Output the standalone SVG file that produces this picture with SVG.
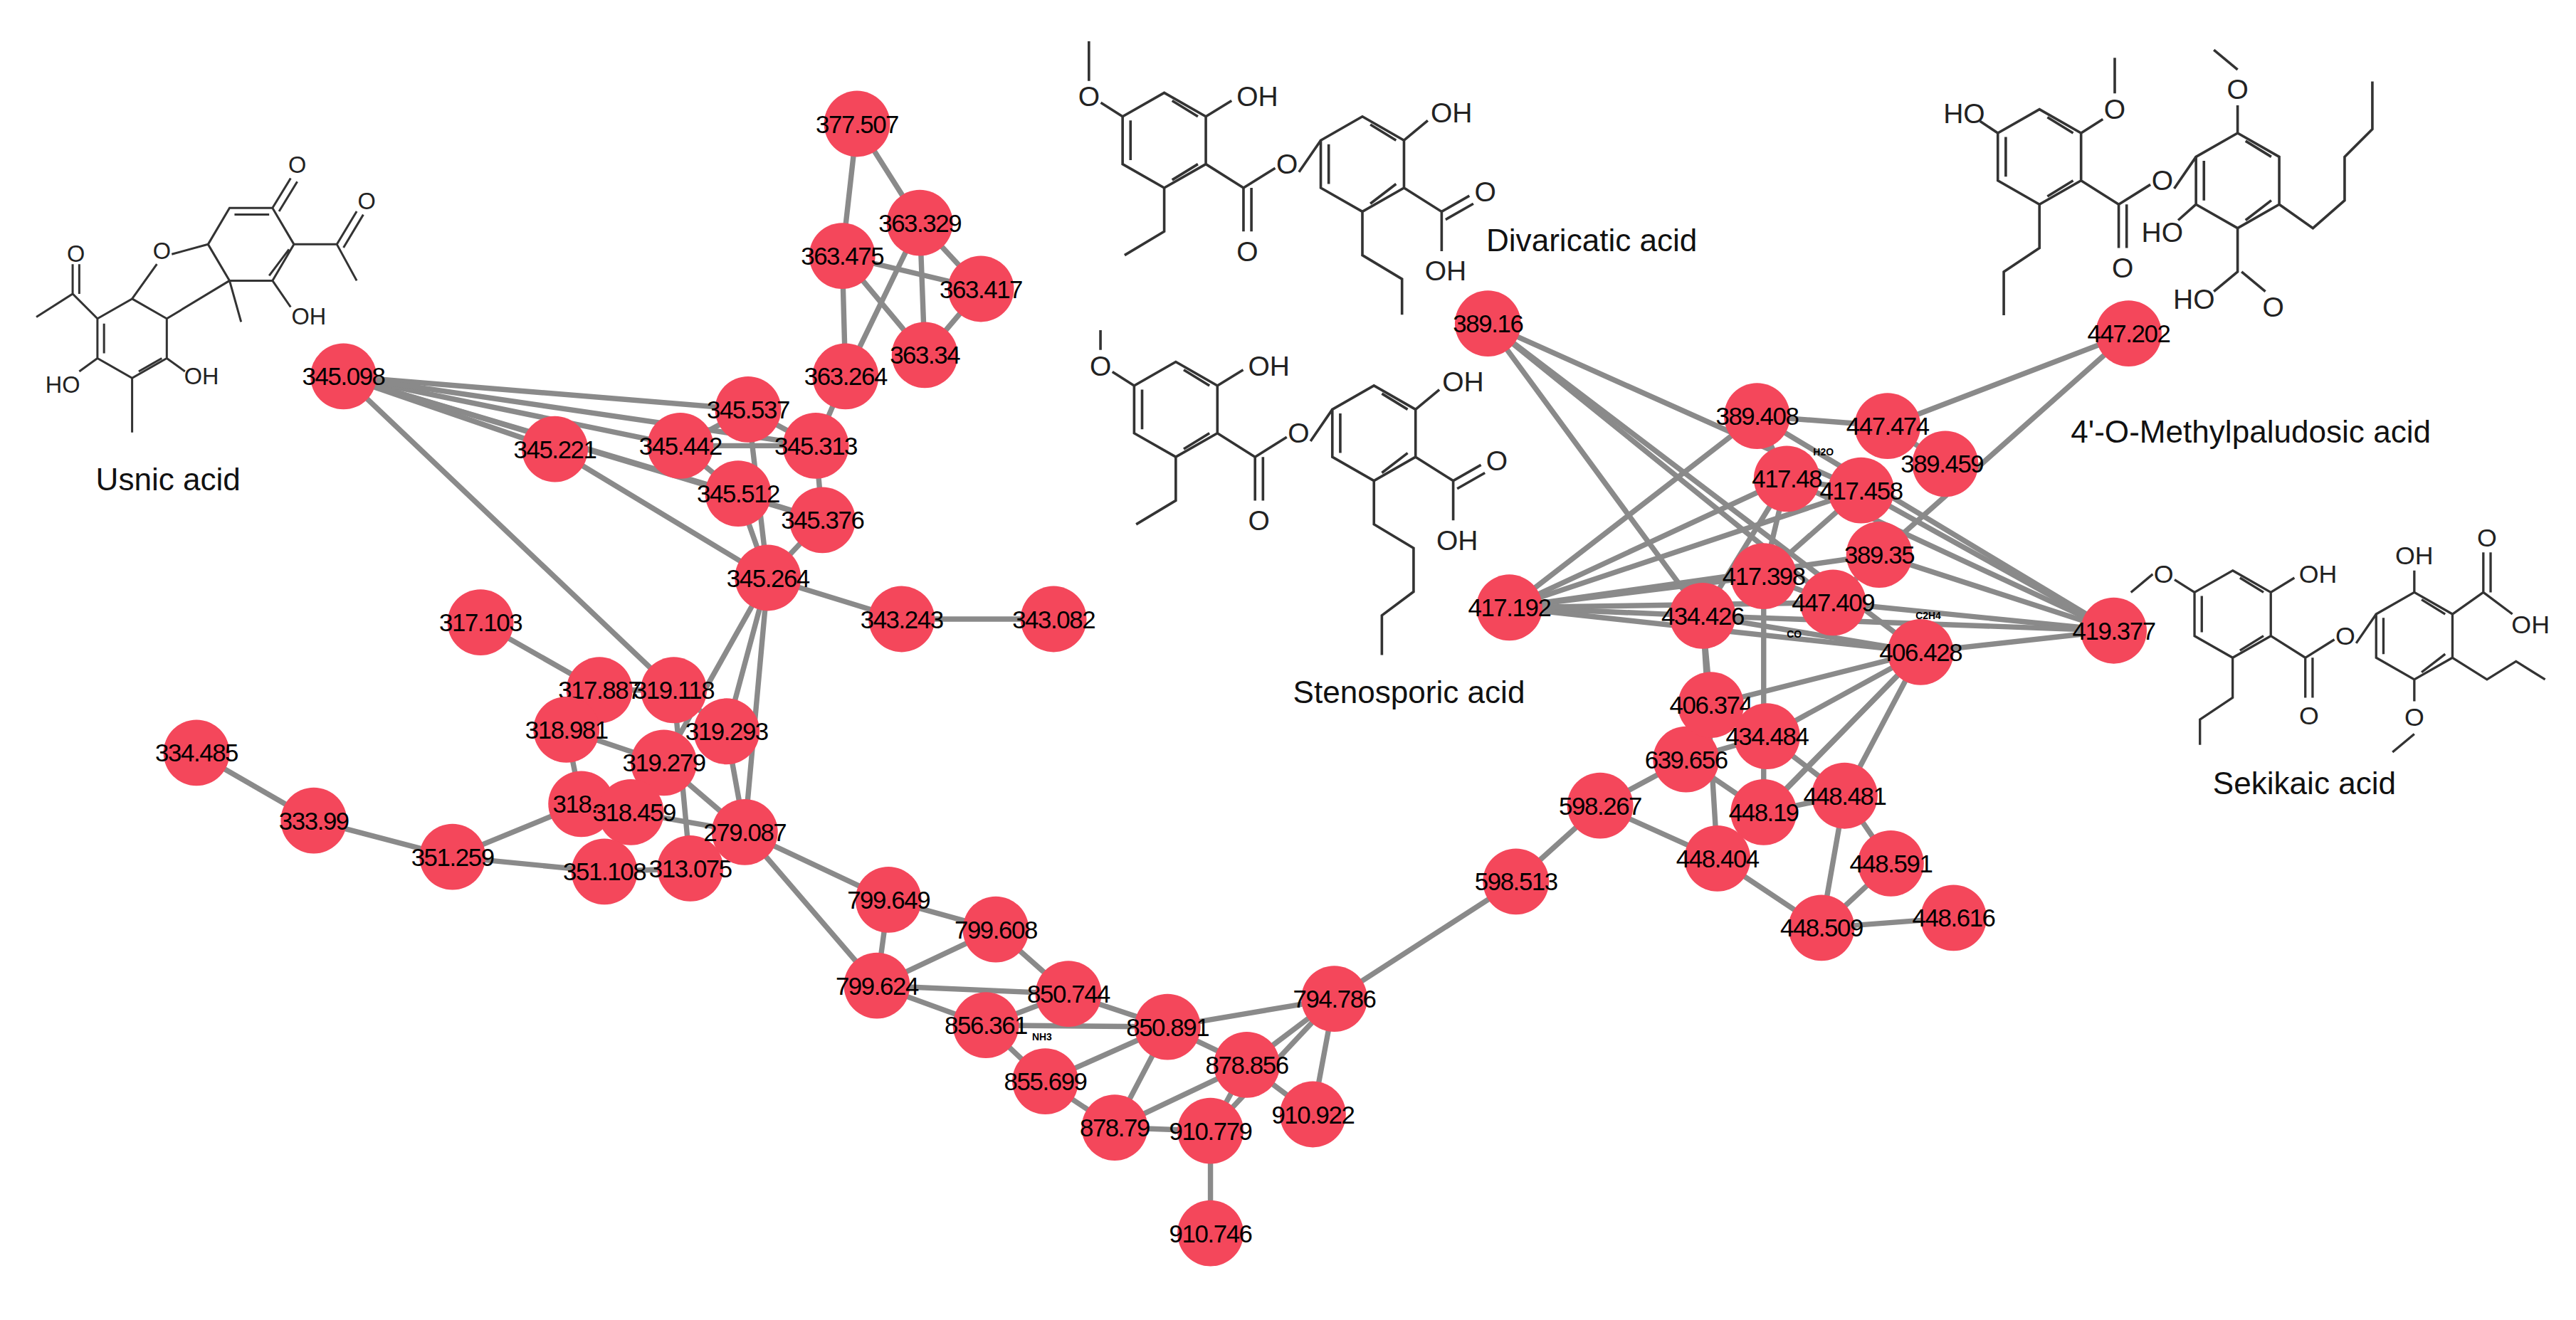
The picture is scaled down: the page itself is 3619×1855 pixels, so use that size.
<svg xmlns="http://www.w3.org/2000/svg" width="3619" height="1855" viewBox="0 0 3619 1855">
<style>
.e{stroke:#8a8a8a;stroke-width:3.2;stroke-linecap:round}
.n circle{fill:#f4475b}
.n text{font-family:"Liberation Sans",Arial,sans-serif;font-size:15px;fill:#000;text-anchor:middle;dominant-baseline:central;letter-spacing:-0.6px}
.m{fill:none;stroke:#333;stroke-width:1.3}
.mt{font-family:"Liberation Sans",Arial,sans-serif;font-size:14px;fill:#222;text-anchor:middle;dominant-baseline:central}
.lab{font-family:"Liberation Sans",Arial,sans-serif;font-size:19px;fill:#111}
.tiny{font-family:"Liberation Sans",Arial,sans-serif;font-size:6px;fill:#000;font-weight:bold}
</style>
<rect width="3619" height="1855" fill="#fff"/>
<g transform="scale(2.32)">
<g id="usnic">
<path class="m" d="M80,181 L101,193 L101,217 L80,229 L59,217 L59,193 Z M63,196 L63,214 M84,225 L98,217 M80,181 L95,160 M104,154 L126,148 L139,170 L101,193 M126,148 L139,126 L165,126 L178,148 L165,170 L139,170 M142,130 L163,130 M175,151 L163,167 M165,126 L176,108 M169,128 L180,110 M178,148 L204,148 L216,128 M208,150 L220,130 M204,148 L216,170 M165,170 L176,186 M139,170 L146,195 M80,229 L80,262 M59,217 L48,225 M101,217 L112,225 M59,193 L44,178 L22,192 M44,178 L44,160 M48,178 L48,160"/>
<text class="mt" x="98" y="152">O</text><text class="mt" x="180" y="100">O</text><text class="mt" x="222" y="122">O</text><text class="mt" x="46" y="154">O</text>
<text class="mt" x="187" y="192">OH</text><text class="mt" x="38" y="233">HO</text><text class="mt" x="122" y="228">OH</text>
<text class="lab" x="58" y="297">Usnic acid</text>
</g>
<g id="divaricatic" transform="translate(705,85) scale(1.2)">
<path class="m" d="M0,-24 L21,-12 L21,12 L0,24 L-21,12 L-21,-12 Z M4,-20 L17,-12 M17,12 L4,20 M-17,10 L-17,-10 M21,-12 L34,-20 M-21,-12 L-32,-19 M-38,-30 L-38,-50 M21,12 L40,24 L40,46 M44,24 L44,46 M40,24 L56,14 M68,16 L79,0 M79,0 L100,-12 L121,0 L121,24 L100,36 L79,24 Z M83,2 L83,22 M104,-8 L117,0 M117,22 L104,32 M121,0 L133,-10 M121,24 L140,36 L154,28 M142,40 L156,32 M140,36 L140,56 M0,24 L0,46 L-20,58 M100,36 L100,58 L120,70 L120,88"/>
<text class="mt" x="-38" y="-22">O</text><text class="mt" x="47" y="-22">OH</text><text class="mt" x="42" y="56">O</text><text class="mt" x="62" y="12">O</text><text class="mt" x="145" y="-14">OH</text><text class="mt" x="162" y="26">O</text><text class="mt" x="142" y="66">OH</text>
</g>
<text class="lab" x="900" y="152">Divaricatic acid</text>
<g id="stenosporic" transform="translate(712,248) scale(1.2)">
<path class="m" d="M0,-24 L21,-12 L21,12 L0,24 L-21,12 L-21,-12 Z M4,-20 L17,-12 M17,12 L4,20 M-17,10 L-17,-10 M21,-12 L34,-20 M-21,-12 L-32,-19 M-38,-30 L-38,-40 M21,12 L40,24 L40,46 M44,24 L44,46 M40,24 L56,14 M68,16 L79,0 M79,0 L100,-12 L121,0 L121,24 L100,36 L79,24 Z M83,2 L83,22 M104,-8 L117,0 M117,22 L104,32 M121,0 L133,-10 M121,24 L140,36 L154,28 M142,40 L156,32 M140,36 L140,56 M0,24 L0,46 L-20,58 M100,36 L100,58 L120,70 L120,92 L104,104 L104,124"/>
<text class="mt" x="-38" y="-22">O</text><text class="mt" x="47" y="-22">OH</text><text class="mt" x="42" y="56">O</text><text class="mt" x="62" y="12">O</text><text class="mt" x="145" y="-14">OH</text><text class="mt" x="162" y="26">O</text><text class="mt" x="142" y="66">OH</text>
</g>
<text class="lab" x="783" y="426">Stenosporic acid</text>
<g id="paludosic" transform="translate(1235,95) scale(1.2)">
<path class="m" d="M0,-24 L21,-12 L21,12 L0,24 L-21,12 L-21,-12 Z M4,-20 L17,-12 M17,12 L4,20 M-17,10 L-17,-10 M21,-12 L32,-19 M38,-32 L38,-50 M-21,-12 L-30,-18 M21,12 L40,24 L40,46 M44,24 L44,46 M40,24 L56,14 M68,16 L79,0 M79,0 L100,-12 L121,0 L121,24 L100,36 L79,24 Z M83,2 L83,22 M104,-8 L117,0 M117,22 L104,32 M100,-12 L100,-26 M100,-44 L88,-54 M79,24 L70,32 M100,36 L100,58 L88,68 M102,58 L114,68 M121,24 L138,36 L154,22 L154,0 L168,-14 L168,-38 M0,24 L0,46 L-18,58 L-18,80"/>
<text class="mt" x="-38" y="-22">HO</text><text class="mt" x="38" y="-24">O</text><text class="mt" x="42" y="56">O</text><text class="mt" x="62" y="12">O</text><text class="mt" x="100" y="-34">O</text><text class="mt" x="62" y="38">HO</text><text class="mt" x="78" y="72">HO</text><text class="mt" x="118" y="76">O</text>
</g>
<text class="lab" x="1254" y="268">4'-O-Methylpaludosic acid</text>
<g id="sekikaic" transform="translate(1352,372) scale(1.1)">
<path class="m" d="M0,-24 L21,-12 L21,12 L0,24 L-21,12 L-21,-12 Z M4,-20 L17,-12 M17,12 L4,20 M-17,10 L-17,-10 M21,-12 L34,-20 M-21,-12 L-32,-19 M-44,-22 L-56,-12 M21,12 L40,24 L40,46 M44,24 L44,46 M40,24 L56,14 M68,16 L79,0 M79,0 L100,-12 L121,0 L121,24 L100,36 L79,24 Z M83,2 L83,22 M104,-8 L117,0 M117,22 L104,32 M100,-12 L100,-24 M121,0 L138,-12 L138,-34 M142,-12 L142,-34 M138,-12 L154,0 M100,36 L100,48 M100,66 L88,76 M121,24 L140,36 L156,26 L172,36 M0,24 L0,46 L-18,58 L-18,72"/>
<text class="mt" x="-38" y="-22">O</text><text class="mt" x="47" y="-22">OH</text><text class="mt" x="42" y="56">O</text><text class="mt" x="62" y="12">O</text><text class="mt" x="100" y="-32">OH</text><text class="mt" x="140" y="-42">O</text><text class="mt" x="164" y="6">OH</text><text class="mt" x="100" y="57">O</text>
</g>
<text class="lab" x="1340" y="481">Sekikaic acid</text>

<g id="edges">
<g class="e">
<line x1="519" y1="75" x2="510" y2="155"/><line x1="519" y1="75" x2="557" y2="135"/>
<line x1="510" y1="155" x2="594" y2="175"/><line x1="510" y1="155" x2="560" y2="215"/><line x1="510" y1="155" x2="512" y2="228"/>
<line x1="557" y1="135" x2="594" y2="175"/><line x1="557" y1="135" x2="512" y2="228"/><line x1="557" y1="135" x2="560" y2="215"/>
<line x1="594" y1="175" x2="560" y2="215"/><line x1="512" y1="228" x2="494" y2="270"/>
<line x1="208" y1="228" x2="453" y2="248"/><line x1="208" y1="228" x2="412" y2="270"/><line x1="208" y1="228" x2="494" y2="270"/>
<line x1="208" y1="228" x2="336" y2="272"/><line x1="208" y1="228" x2="447" y2="299"/><line x1="208" y1="228" x2="498" y2="315"/>
<line x1="208" y1="228" x2="408" y2="418"/><line x1="336" y1="272" x2="465" y2="350"/>
<line x1="453" y1="248" x2="412" y2="270"/><line x1="453" y1="248" x2="494" y2="270"/><line x1="412" y1="270" x2="494" y2="270"/>
<line x1="412" y1="270" x2="447" y2="299"/><line x1="447" y1="299" x2="498" y2="315"/><line x1="447" y1="299" x2="465" y2="350"/>
<line x1="498" y1="315" x2="465" y2="350"/><line x1="494" y1="270" x2="498" y2="315"/><line x1="453" y1="248" x2="465" y2="350"/>
<line x1="465" y1="350" x2="546" y2="375"/><line x1="546" y1="375" x2="638" y2="375"/>
<line x1="465" y1="350" x2="440" y2="443"/><line x1="465" y1="350" x2="402" y2="462"/><line x1="465" y1="350" x2="451" y2="504"/>
<line x1="291" y1="377" x2="363" y2="418"/><line x1="363" y1="418" x2="343" y2="442"/><line x1="363" y1="418" x2="408" y2="418"/>
<line x1="408" y1="418" x2="440" y2="443"/><line x1="343" y1="442" x2="402" y2="462"/><line x1="343" y1="442" x2="352" y2="487"/>
<line x1="402" y1="462" x2="382" y2="492"/><line x1="440" y1="443" x2="451" y2="504"/><line x1="402" y1="462" x2="451" y2="504"/>
<line x1="352" y1="487" x2="382" y2="492"/><line x1="352" y1="487" x2="274" y2="519"/><line x1="274" y1="519" x2="366" y2="528"/>
<line x1="274" y1="519" x2="190" y2="497"/><line x1="190" y1="497" x2="119" y2="456"/><line x1="366" y1="528" x2="418" y2="526"/>
<line x1="418" y1="526" x2="451" y2="504"/><line x1="382" y1="492" x2="451" y2="504"/><line x1="408" y1="418" x2="418" y2="526"/>
<line x1="451" y1="504" x2="538" y2="545"/><line x1="451" y1="504" x2="531" y2="597"/>
<line x1="538" y1="545" x2="603" y2="563"/><line x1="538" y1="545" x2="531" y2="597"/><line x1="603" y1="563" x2="531" y2="597"/>
<line x1="603" y1="563" x2="647" y2="602"/><line x1="531" y1="597" x2="647" y2="602"/><line x1="531" y1="597" x2="597" y2="621"/>
<line x1="597" y1="621" x2="647" y2="602"/><line x1="597" y1="621" x2="707" y2="622"/><line x1="647" y1="602" x2="707" y2="622"/>
<line x1="597" y1="621" x2="633" y2="655"/><line x1="633" y1="655" x2="707" y2="622"/><line x1="633" y1="655" x2="675" y2="683"/>
<line x1="707" y1="622" x2="675" y2="683"/><line x1="707" y1="622" x2="808" y2="605"/><line x1="707" y1="622" x2="755" y2="645"/>
<line x1="755" y1="645" x2="808" y2="605"/><line x1="755" y1="645" x2="733" y2="685"/><line x1="755" y1="645" x2="795" y2="675"/>
<line x1="733" y1="685" x2="808" y2="605"/><line x1="795" y1="675" x2="808" y2="605"/><line x1="675" y1="683" x2="733" y2="685"/>
<line x1="733" y1="685" x2="733" y2="747"/><line x1="675" y1="683" x2="755" y2="645"/>
<line x1="808" y1="605" x2="918" y2="534"/><line x1="918" y1="534" x2="969" y2="488"/>
<line x1="969" y1="488" x2="1021" y2="460"/><line x1="969" y1="488" x2="1040" y2="520"/>
<line x1="1021" y1="460" x2="1036" y2="427"/><line x1="1021" y1="460" x2="1068" y2="492"/><line x1="1021" y1="460" x2="1070" y2="446"/>
<line x1="1036" y1="427" x2="1070" y2="446"/><line x1="1070" y1="446" x2="1117" y2="482"/><line x1="1070" y1="446" x2="1163" y2="395"/>
<line x1="1068" y1="492" x2="1117" y2="482"/><line x1="1068" y1="492" x2="1040" y2="520"/><line x1="1040" y1="520" x2="1103" y2="562"/>
<line x1="1117" y1="482" x2="1145" y2="523"/><line x1="1117" y1="482" x2="1103" y2="562"/><line x1="1145" y1="523" x2="1103" y2="562"/>
<line x1="1103" y1="562" x2="1183" y2="556"/><line x1="1117" y1="482" x2="1163" y2="395"/><line x1="1068" y1="492" x2="1163" y2="395"/>
<line x1="1036" y1="427" x2="1163" y2="395"/><line x1="1036" y1="427" x2="1031" y2="373"/><line x1="1040" y1="520" x2="1031" y2="373"/>
<line x1="1068" y1="492" x2="1068" y2="349"/><line x1="1040" y1="520" x2="1163" y2="395"/>
<line x1="901" y1="196" x2="1031" y2="373"/><line x1="901" y1="196" x2="1110" y2="365"/><line x1="901" y1="196" x2="1163" y2="395"/><line x1="901" y1="196" x2="1127" y2="297"/>
<line x1="914" y1="368" x2="1064" y2="252"/><line x1="914" y1="368" x2="1082" y2="290"/><line x1="914" y1="368" x2="1127" y2="297"/>
<line x1="914" y1="368" x2="1138" y2="336"/><line x1="914" y1="368" x2="1068" y2="349"/><line x1="914" y1="368" x2="1031" y2="373"/>
<line x1="914" y1="368" x2="1110" y2="365"/><line x1="914" y1="368" x2="1163" y2="395"/>
<line x1="1289" y1="202" x2="1143" y2="258"/><line x1="1289" y1="202" x2="1138" y2="336"/>
<line x1="1064" y1="252" x2="1143" y2="258"/><line x1="1064" y1="252" x2="1082" y2="290"/><line x1="1064" y1="252" x2="1280" y2="382"/>
<line x1="1082" y1="290" x2="1280" y2="382"/><line x1="1127" y1="297" x2="1280" y2="382"/><line x1="1138" y1="336" x2="1280" y2="382"/>
<line x1="1110" y1="365" x2="1280" y2="382"/><line x1="1163" y1="395" x2="1280" y2="382"/><line x1="1031" y1="373" x2="1163" y2="395"/>
<line x1="1031" y1="373" x2="1280" y2="382"/><line x1="1082" y1="290" x2="1031" y2="373"/><line x1="1127" y1="297" x2="1068" y2="349"/>
<line x1="1143" y1="258" x2="1178" y2="281"/><line x1="1082" y1="290" x2="1127" y2="297"/><line x1="1138" y1="336" x2="1110" y2="365"/>
<line x1="1068" y1="349" x2="1110" y2="365"/><line x1="1082" y1="290" x2="1068" y2="349"/>
</g>
<text class="tiny" x="1098" y="276">H2O</text>
<text class="tiny" x="1082" y="386">CO</text>
<text class="tiny" x="1160" y="375">C2H4</text>
<text class="tiny" x="625" y="630">NH3</text>
</g>

<g id="nodes">
<g class="n" id="n377_507"><circle cx="519" cy="75" r="20"/><text x="519" y="75">377.507</text></g>
<g class="n" id="n363_475"><circle cx="510" cy="155" r="20"/><text x="510" y="155">363.475</text></g>
<g class="n" id="n363_329"><circle cx="557" cy="135" r="20"/><text x="557" y="135">363.329</text></g>
<g class="n" id="n363_417"><circle cx="594" cy="175" r="20"/><text x="594" y="175">363.417</text></g>
<g class="n" id="n363_264"><circle cx="512" cy="228" r="20"/><text x="512" y="228">363.264</text></g>
<g class="n" id="n363_34"><circle cx="560" cy="215" r="20"/><text x="560" y="215">363.34</text></g>
<g class="n" id="n345_098"><circle cx="208" cy="228" r="20"/><text x="208" y="228">345.098</text></g>
<g class="n" id="n345_221"><circle cx="336" cy="272" r="20"/><text x="336" y="272">345.221</text></g>
<g class="n" id="n345_442"><circle cx="412" cy="270" r="20"/><text x="412" y="270">345.442</text></g>
<g class="n" id="n345_537"><circle cx="453" cy="248" r="20"/><text x="453" y="248">345.537</text></g>
<g class="n" id="n345_313"><circle cx="494" cy="270" r="20"/><text x="494" y="270">345.313</text></g>
<g class="n" id="n345_512"><circle cx="447" cy="299" r="20"/><text x="447" y="299">345.512</text></g>
<g class="n" id="n345_376"><circle cx="498" cy="315" r="20"/><text x="498" y="315">345.376</text></g>
<g class="n" id="n345_264"><circle cx="465" cy="350" r="20"/><text x="465" y="350">345.264</text></g>
<g class="n" id="n343_243"><circle cx="546" cy="375" r="20"/><text x="546" y="375">343.243</text></g>
<g class="n" id="n343_082"><circle cx="638" cy="375" r="20"/><text x="638" y="375">343.082</text></g>
<g class="n" id="n317_103"><circle cx="291" cy="377" r="20"/><text x="291" y="377">317.103</text></g>
<g class="n" id="n317_887"><circle cx="363" cy="418" r="20"/><text x="363" y="418">317.887</text></g>
<g class="n" id="n319_118"><circle cx="408" cy="418" r="20"/><text x="408" y="418">319.118</text></g>
<g class="n" id="n318_981"><circle cx="343" cy="442" r="20"/><text x="343" y="442">318.981</text></g>
<g class="n" id="n319_293"><circle cx="440" cy="443" r="20"/><text x="440" y="443">319.293</text></g>
<g class="n" id="n319_279"><circle cx="402" cy="462" r="20"/><text x="402" y="462">319.279</text></g>
<g class="n" id="n318_4"><circle cx="352" cy="487" r="20"/><text x="352" y="487">318.4</text></g>
<g class="n" id="n318_459"><circle cx="382" cy="492" r="20"/><text x="384" y="492">318.459</text></g>
<g class="n" id="n334_485"><circle cx="119" cy="456" r="20"/><text x="119" y="456">334.485</text></g>
<g class="n" id="n333_99"><circle cx="190" cy="497" r="20"/><text x="190" y="497">333.99</text></g>
<g class="n" id="n351_259"><circle cx="274" cy="519" r="20"/><text x="274" y="519">351.259</text></g>
<g class="n" id="n351_108"><circle cx="366" cy="528" r="20"/><text x="366" y="528">351.108</text></g>
<g class="n" id="n313_075"><circle cx="418" cy="526" r="20"/><text x="418" y="526">313.075</text></g>
<g class="n" id="n279_087"><circle cx="451" cy="504" r="20"/><text x="451" y="504">279.087</text></g>
<g class="n" id="n799_649"><circle cx="538" cy="545" r="20"/><text x="538" y="545">799.649</text></g>
<g class="n" id="n799_608"><circle cx="603" cy="563" r="20"/><text x="603" y="563">799.608</text></g>
<g class="n" id="n799_624"><circle cx="531" cy="597" r="20"/><text x="531" y="597">799.624</text></g>
<g class="n" id="n850_744"><circle cx="647" cy="602" r="20"/><text x="647" y="602">850.744</text></g>
<g class="n" id="n856_361"><circle cx="597" cy="621" r="20"/><text x="597" y="621">856.361</text></g>
<g class="n" id="n850_891"><circle cx="707" cy="622" r="20"/><text x="707" y="622">850.891</text></g>
<g class="n" id="n855_699"><circle cx="633" cy="655" r="20"/><text x="633" y="655">855.699</text></g>
<g class="n" id="n878_856"><circle cx="755" cy="645" r="20"/><text x="755" y="645">878.856</text></g>
<g class="n" id="n878_79"><circle cx="675" cy="683" r="20"/><text x="675" y="683">878.79</text></g>
<g class="n" id="n910_779"><circle cx="733" cy="685" r="20"/><text x="733" y="685">910.779</text></g>
<g class="n" id="n910_922"><circle cx="795" cy="675" r="20"/><text x="795" y="675">910.922</text></g>
<g class="n" id="n910_746"><circle cx="733" cy="747" r="20"/><text x="733" y="747">910.746</text></g>
<g class="n" id="n794_786"><circle cx="808" cy="605" r="20"/><text x="808" y="605">794.786</text></g>
<g class="n" id="n598_513"><circle cx="918" cy="534" r="20"/><text x="918" y="534">598.513</text></g>
<g class="n" id="n598_267"><circle cx="969" cy="488" r="20"/><text x="969" y="488">598.267</text></g>
<g class="n" id="n639_656"><circle cx="1021" cy="460" r="20"/><text x="1021" y="460">639.656</text></g>
<g class="n" id="n406_374"><circle cx="1036" cy="427" r="20"/><text x="1036" y="427">406.374</text></g>
<g class="n" id="n434_484"><circle cx="1070" cy="446" r="20"/><text x="1070" y="446">434.484</text></g>
<g class="n" id="n448_481"><circle cx="1117" cy="482" r="20"/><text x="1117" y="482">448.481</text></g>
<g class="n" id="n448_1"><circle cx="1068" cy="492" r="20"/><text x="1068" y="492">448.19</text></g>
<g class="n" id="n448_404"><circle cx="1040" cy="520" r="20"/><text x="1040" y="520">448.404</text></g>
<g class="n" id="n448_591"><circle cx="1145" cy="523" r="20"/><text x="1145" y="523">448.591</text></g>
<g class="n" id="n448_509"><circle cx="1103" cy="562" r="20"/><text x="1103" y="562">448.509</text></g>
<g class="n" id="n448_616"><circle cx="1183" cy="556" r="20"/><text x="1183" y="556">448.616</text></g>
<g class="n" id="n389_16"><circle cx="901" cy="196" r="20"/><text x="901" y="196">389.16</text></g>
<g class="n" id="n447_202"><circle cx="1289" cy="202" r="20"/><text x="1289" y="202">447.202</text></g>
<g class="n" id="n389_408"><circle cx="1064" cy="252" r="20"/><text x="1064" y="252">389.408</text></g>
<g class="n" id="n447_474"><circle cx="1143" cy="258" r="20"/><text x="1143" y="258">447.474</text></g>
<g class="n" id="n389_459"><circle cx="1178" cy="281" r="20"/><text x="1176" y="281">389.459</text></g>
<g class="n" id="n417_48"><circle cx="1082" cy="290" r="20"/><text x="1082" y="290">417.48</text></g>
<g class="n" id="n417_458"><circle cx="1127" cy="297" r="20"/><text x="1127" y="297">417.458</text></g>
<g class="n" id="n389_35"><circle cx="1138" cy="336" r="20"/><text x="1138" y="336">389.35</text></g>
<g class="n" id="n417_398"><circle cx="1068" cy="349" r="20"/><text x="1068" y="349">417.398</text></g>
<g class="n" id="n417_192"><circle cx="914" cy="368" r="20"/><text x="914" y="368">417.192</text></g>
<g class="n" id="n434_426"><circle cx="1031" cy="373" r="20"/><text x="1031" y="373">434.426</text></g>
<g class="n" id="n447_409"><circle cx="1110" cy="365" r="20"/><text x="1110" y="365">447.409</text></g>
<g class="n" id="n406_428"><circle cx="1163" cy="395" r="20"/><text x="1163" y="395">406.428</text></g>
<g class="n" id="n419_377"><circle cx="1280" cy="382" r="20"/><text x="1280" y="382">419.377</text></g>
</g>
</g>
</svg>
